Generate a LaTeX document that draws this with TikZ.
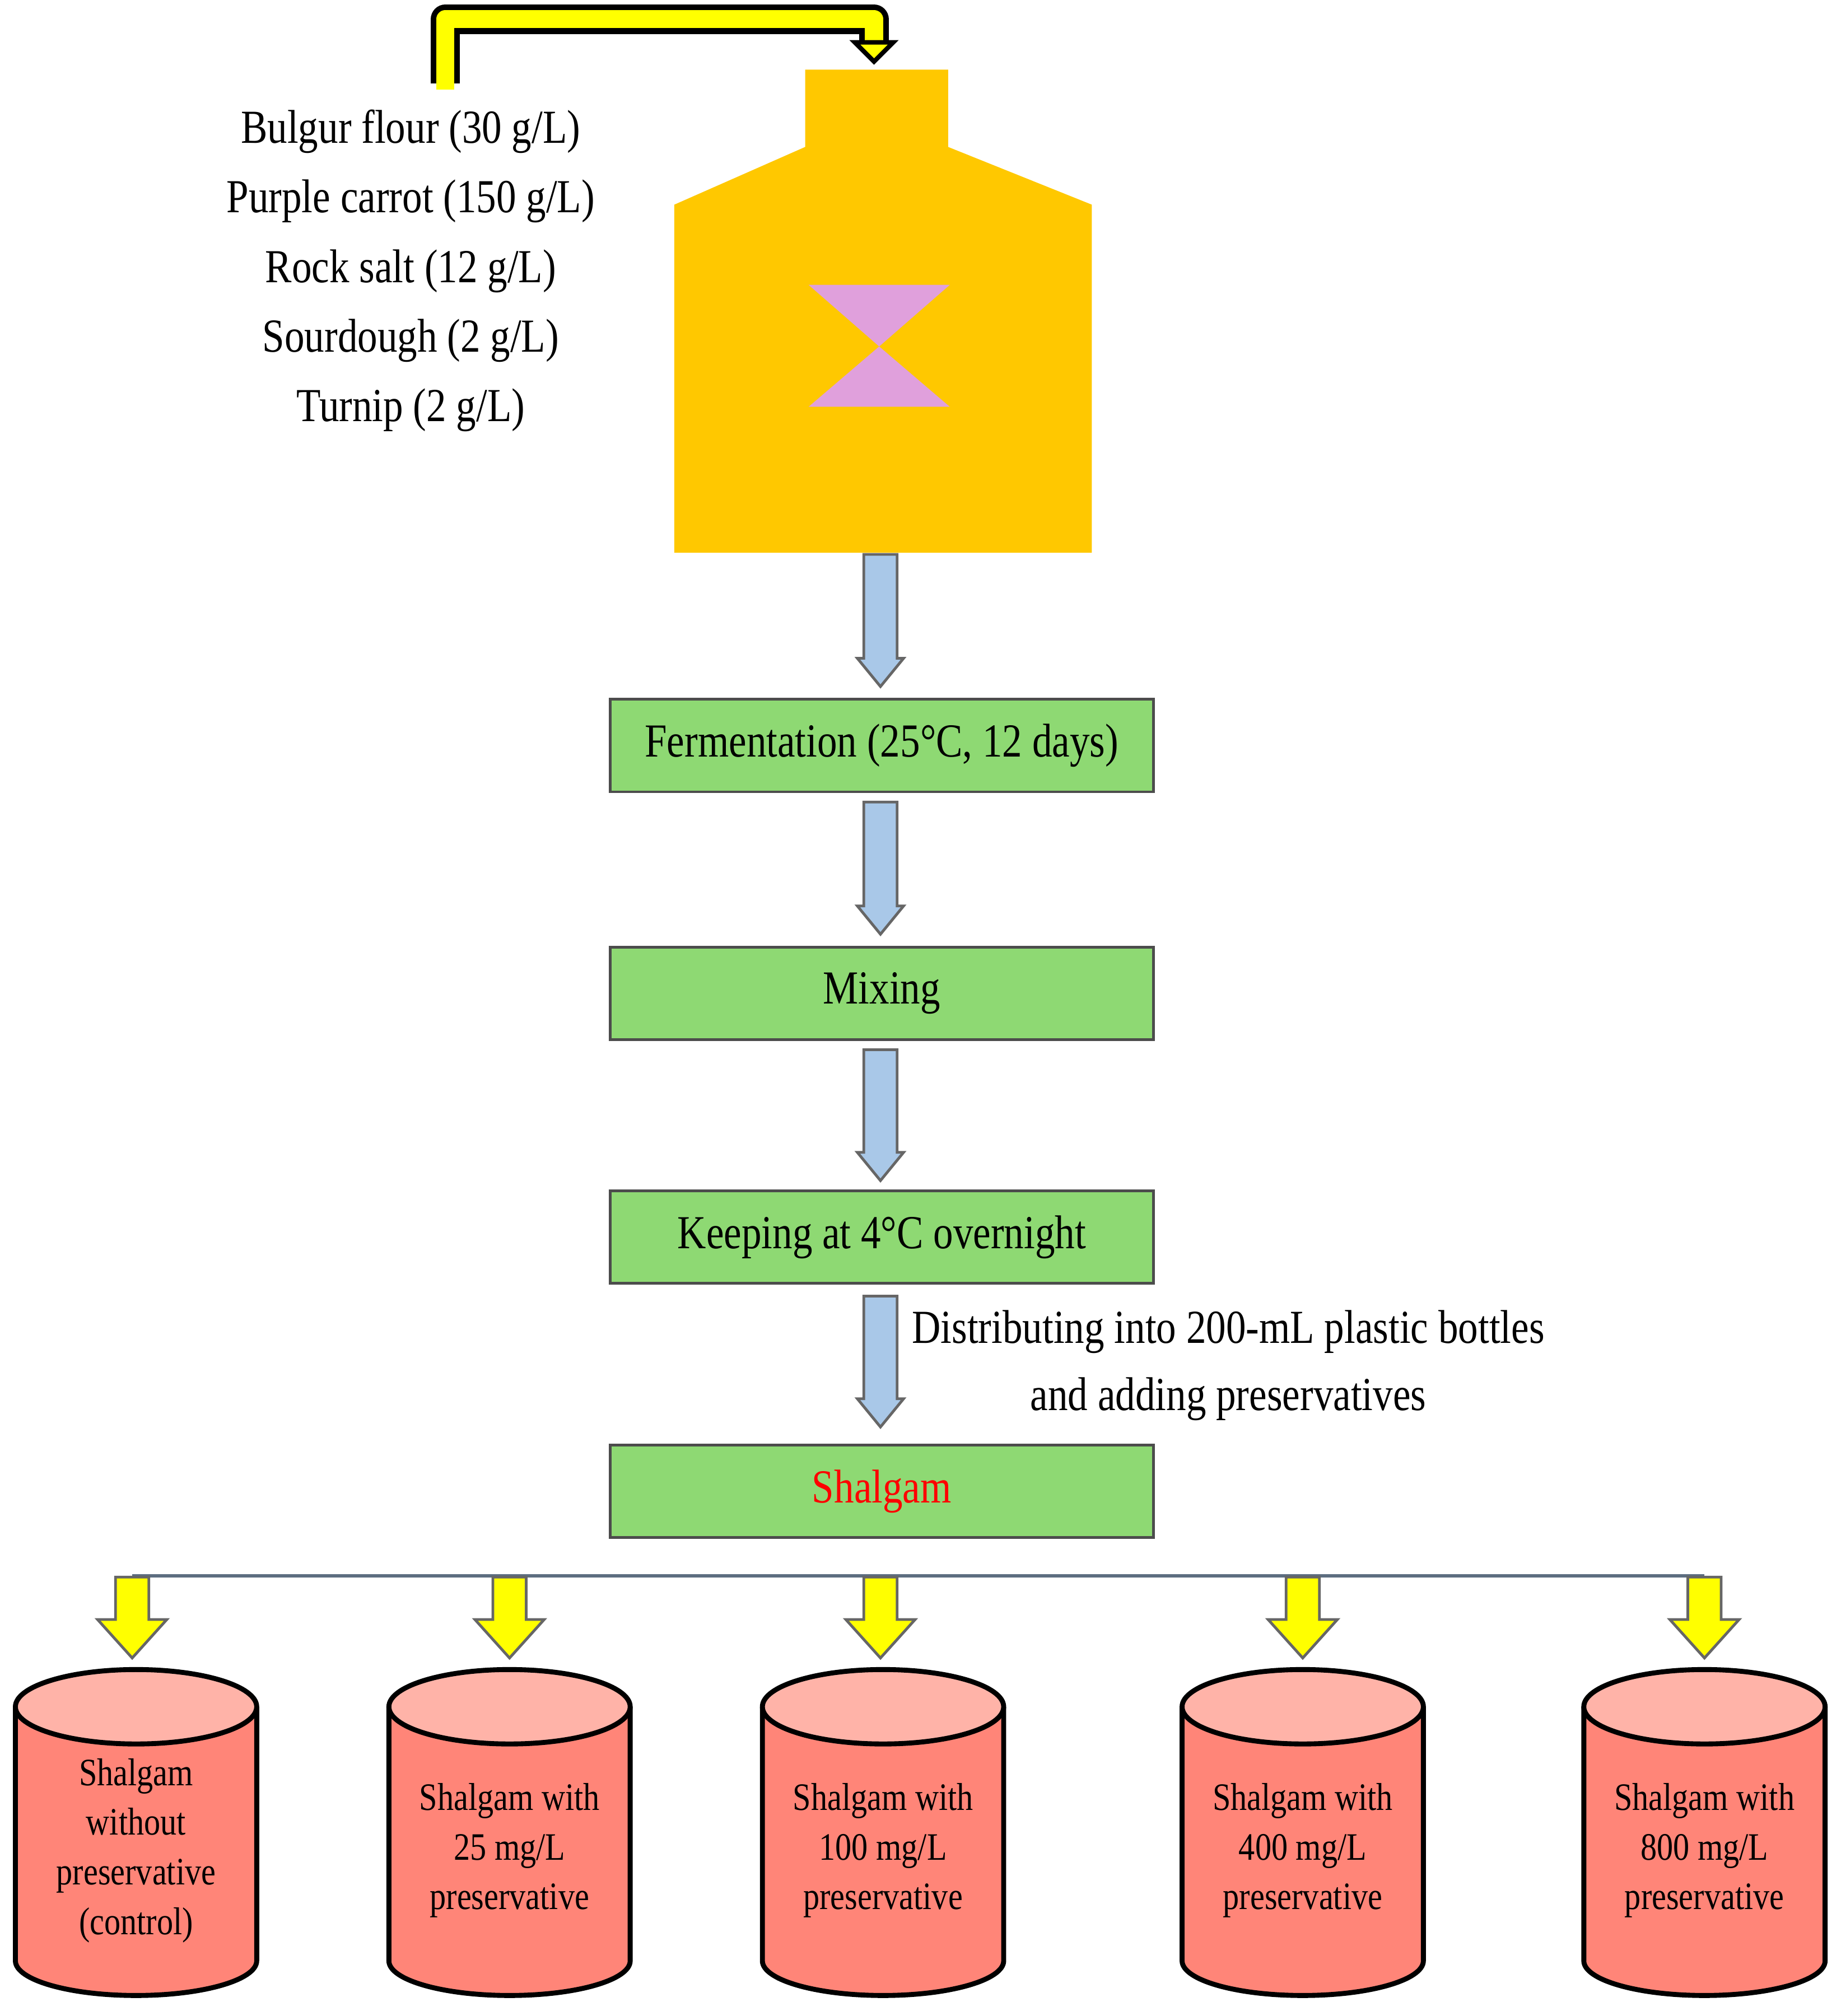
\documentclass[tikz,border=0pt]{standalone}
\usepackage{fontspec}
\setmainfont{Liberation Serif}[FakeStretch=0.84]
\usetikzlibrary{arrows.meta}
\definecolor{bottle}{HTML}{FFC800}
\definecolor{pinkh}{HTML}{E0A0DC}
\definecolor{boxg}{HTML}{8ED973}
\definecolor{arrb}{HTML}{A9C8E8}
\definecolor{cyltop}{HTML}{FFB3A8}
\definecolor{cylbody}{HTML}{FF8578}
\definecolor{ylw}{HTML}{FFFF00}
\newcommand\myblockarrow[7]{% x, y1, y2, half shaft, half head, head length, fill
  \filldraw[fill=#7,draw=black!60,line width=0.6pt]
   (#1-#4,#2) -- (#1+#4,#2) -- (#1+#4,#3-#6) -- (#1+#5,#3-#6) -- (#1,#3) --
   (#1-#5,#3-#6) -- (#1-#4,#3-#6) -- cycle;}
\tikzset{
 stepbox/.style={draw=black!70,line width=0.6pt,fill=boxg,minimum width=4.23cm,minimum height=0.72cm,font=\fontsize{10.5}{12}\selectfont},
 ing/.style={font=\fontsize{10.5}{12}\selectfont,align=center},
 cyl/.style={font=\fontsize{8.6}{11}\selectfont,align=center}
}
\newcommand\mycyl[3]{% x center, name, text
  \fill[cylbody] (#1-94,1330) -- (#1-94,1528) arc[start angle=180,end angle=360,x radius=94,y radius=-27] -- (#1+94,1330) -- cycle;
  \draw[line width=1.1pt] (#1-94,1330) -- (#1-94,1528) arc[start angle=180,end angle=360,x radius=94,y radius=-27] -- (#1+94,1330);
  \filldraw[fill=cyltop,line width=1.1pt] (#1,1330) ellipse[x radius=94,y radius=29];
  \node[cyl] (#2) at (#1,1442) {#3};}
\begin{document}
\begin{tikzpicture}[x=0.01cm,y=-0.01cm]
\useasboundingbox (0,0) rectangle (1434,1571);
% feed arrow
\coordinate (fs) at (347,65);
\coordinate (fe) at (681,48);
\draw[line width=6.5pt,line join=round] (fs) -- (347,15) -- (681,15) -- (681,38);
\draw[line width=4pt,ylw,line join=round] ([yshift=-0.05cm]fs) -- (347,15) -- (681,15) -- (681,40);
\filldraw[fill=ylw,line width=1pt] (666,33) -- (696,33) -- (fe) -- cycle;
% bottle
\filldraw[fill=bottle,draw=bottle] (628,55) -- (738,55) -- (738,115) -- (850,160) -- (850,430) -- (526,430) -- (526,160) -- (628,115) -- cycle;
\coordinate (bot) at (686,430);
\fill[pinkh] (630,222) -- (740,222) -- (685,270) -- cycle;
\fill[pinkh] (630,317) -- (740,317) -- (685,270) -- cycle;
% ingredients
\node[ing] (ing) at (320,211) {Bulgur flour (30 g/L)\\[0.12cm]Purple carrot (150 g/L)\\[0.12cm]Rock salt (12 g/L)\\[0.12cm]Sourdough (2 g/L)\\[0.12cm]Turnip (2 g/L)};
% steps
\node[stepbox] (s1) at (687,581) {Fermentation (25°C, 12 days)};
\node[stepbox] (s2) at (687,774) {Mixing};
\node[stepbox] (s3) at (687,964) {Keeping at 4°C overnight};
\node[stepbox] (s4) at (687,1162) {\textcolor{red}{Shalgam}};
\myblockarrow{686}{432}{535}{13}{18}{22}{arrb}
\myblockarrow{686}{625}{728}{13}{18}{22}{arrb}
\myblockarrow{686}{818}{920}{13}{18}{22}{arrb}
\myblockarrow{686}{1010}{1112}{13}{18}{22}{arrb}
\node[ing] (lab) at (957,1064) {Distributing into 200-mL plastic bottles\\[0.1cm]and adding preservatives};
% distribution line
\coordinate (l1) at (103,1228);
\coordinate (l2) at (1328,1228);
\draw[line width=0.8pt,color=black!45!arrb] (l1) -- (l2);
\foreach \x in {103,397,686,1015,1328}{\myblockarrow{\x}{1229}{1292}{13}{27}{30}{ylw}}
% cylinders
\mycyl{106}{c1}{Shalgam\\without\\preservative\\(control)}
\mycyl{397}{c2}{Shalgam with\\25 mg/L\\preservative}
\mycyl{688}{c3}{Shalgam with\\100 mg/L\\preservative}
\mycyl{1015}{c4}{Shalgam with\\400 mg/L\\preservative}
\mycyl{1328}{c5}{Shalgam with\\800 mg/L\\preservative}
\end{tikzpicture}
\end{document}
